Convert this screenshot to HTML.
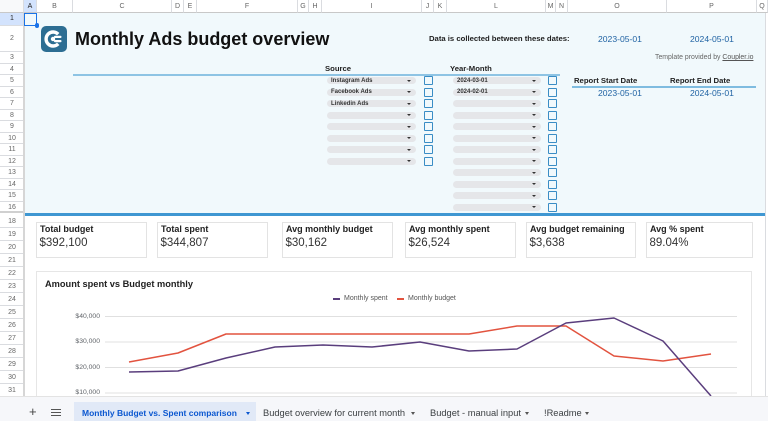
<!DOCTYPE html>
<html><head><meta charset="utf-8">
<style>
*{margin:0;padding:0;box-sizing:border-box}
body{width:768px;height:421px;overflow:hidden;position:relative;background:#fff;font-family:"Liberation Sans",Arial,sans-serif;color:#222}
.a{position:absolute;white-space:nowrap}
.ch{position:absolute;top:0;height:13px;line-height:13px;font-size:7px;color:#666;text-align:center;border-right:1px solid #dadce0;border-bottom:1px solid #c8c8c8;background:#fff}
.rh{position:absolute;left:0;width:24px;font-size:7px;color:#666;text-align:center;border-bottom:1px solid #dadce0;background:#fff}
.chip{position:absolute;height:7px;border-radius:4px;background:#e5e6e9;}
.chip i{position:absolute;left:4px;top:0.5px;font-style:normal;font-size:6px;font-weight:bold;line-height:7px;color:#333}
.chip:after{content:"";position:absolute;right:5px;top:2.5px;border-left:2px solid transparent;border-right:2px solid transparent;border-top:2.5px solid #333}
.cb{position:absolute;width:9px;height:9px;border:1.4px solid #3a8dc5;border-radius:1px}
.card{position:absolute;top:222px;height:36px;border:1px solid #e3e3e3;background:#fff}
.card b{position:absolute;left:3px;top:1px;font-size:9px;line-height:11px;color:#222}
.card span{position:absolute;left:2.5px;top:13px;font-size:11.5px;line-height:14px;color:#333}
.lbl{font-size:7.7px;font-weight:bold;color:#222;line-height:10px}
.dt{font-size:8.6px;color:#1f62a3;line-height:10px}
.tab{position:absolute;top:407px;font-size:9.3px;line-height:12px;color:#3c4043;white-space:nowrap}
.arr{position:absolute;top:412px;width:0;height:0;border-left:2.5px solid transparent;border-right:2.5px solid transparent;border-top:3px solid #555}
</style></head><body>

<div class="a" style="left:24px;top:13px;width:741px;height:200px;background:#f1f9fc"></div>
<div class="a" style="left:24px;top:213px;width:741px;height:2.5px;background:#3f97d2"></div>
<div class="a" style="left:765px;top:13px;width:1px;height:384px;background:#dadce0"></div>

<div class="ch" style="left:0;width:24px;background:#f8f9fa"></div>
<div class="ch" style="left:24px;width:13px;background:#d3e3fd;color:#1f1f1f">A</div>
<div class="ch" style="left:37px;width:36px">B</div>
<div class="ch" style="left:73px;width:99px">C</div>
<div class="ch" style="left:172px;width:12px">D</div>
<div class="ch" style="left:184px;width:13px">E</div>
<div class="ch" style="left:197px;width:101px">F</div>
<div class="ch" style="left:298px;width:11px">G</div>
<div class="ch" style="left:309px;width:13px">H</div>
<div class="ch" style="left:322px;width:100px">I</div>
<div class="ch" style="left:422px;width:12px">J</div>
<div class="ch" style="left:434px;width:13px">K</div>
<div class="ch" style="left:447px;width:99px">L</div>
<div class="ch" style="left:546px;width:10px">M</div>
<div class="ch" style="left:556px;width:12px">N</div>
<div class="ch" style="left:568px;width:99px">O</div>
<div class="ch" style="left:667px;width:90px">P</div>
<div class="ch" style="left:757px;width:11px">Q</div>

<div class="rh" style="top:13px;height:12.5px;line-height:12.5px;background:#d3e3fd;color:#1f1f1f">1</div>
<div class="rh" style="top:25.5px;height:26.5px;line-height:26.5px">2</div>
<div class="rh" style="top:52px;height:11.5px;line-height:11.5px">3</div>
<div class="rh" style="top:63.5px;height:11.5px;line-height:11.5px">4</div>
<div class="rh" style="top:75px;height:11.5px;line-height:11.5px">5</div>
<div class="rh" style="top:86.5px;height:11.5px;line-height:11.5px">6</div>
<div class="rh" style="top:98px;height:11.5px;line-height:11.5px">7</div>
<div class="rh" style="top:109.5px;height:11.5px;line-height:11.5px">8</div>
<div class="rh" style="top:121px;height:11.5px;line-height:11.5px">9</div>
<div class="rh" style="top:132.5px;height:11.5px;line-height:11.5px">10</div>
<div class="rh" style="top:144px;height:11.5px;line-height:11.5px">11</div>
<div class="rh" style="top:155.5px;height:11.5px;line-height:11.5px">12</div>
<div class="rh" style="top:167px;height:11.5px;line-height:11.5px">13</div>
<div class="rh" style="top:178.5px;height:11.5px;line-height:11.5px">14</div>
<div class="rh" style="top:190px;height:11.5px;line-height:11.5px">15</div>
<div class="rh" style="top:201.5px;height:11.5px;line-height:11.5px;border-bottom:2.5px solid #d0d0d0">16</div>
<div class="rh" style="top:214.5px;height:13px;line-height:13px">18</div>
<div class="rh" style="top:227.5px;height:13px;line-height:13px">19</div>
<div class="rh" style="top:240.5px;height:13px;line-height:13px">20</div>
<div class="rh" style="top:253.5px;height:13px;line-height:13px">21</div>
<div class="rh" style="top:266.5px;height:13px;line-height:13px">22</div>
<div class="rh" style="top:279.5px;height:13px;line-height:13px">23</div>
<div class="rh" style="top:292.5px;height:13px;line-height:13px">24</div>
<div class="rh" style="top:305.5px;height:13px;line-height:13px">25</div>
<div class="rh" style="top:318.5px;height:13px;line-height:13px">26</div>
<div class="rh" style="top:331.5px;height:13px;line-height:13px">27</div>
<div class="rh" style="top:344.5px;height:13px;line-height:13px">28</div>
<div class="rh" style="top:357.5px;height:13px;line-height:13px">29</div>
<div class="rh" style="top:370.5px;height:13px;line-height:13px">30</div>
<div class="rh" style="top:383.5px;height:13px;line-height:13px">31</div>
<div class="a" style="left:23px;top:13px;width:2px;height:384px;background:#d6d6d6"></div>

<div class="a" style="left:24px;top:13px;width:13px;height:12.5px;border:1.5px solid #1a73e8"></div>
<div class="a" style="left:34.5px;top:23px;width:4.5px;height:4.5px;border-radius:50%;background:#1a73e8"></div>

<svg class="a" style="left:41px;top:25.5px" width="26" height="26" viewBox="0 0 26 26">
<rect x="0" y="0" width="26" height="26" rx="5" fill="#2d6e93"/>
<path d="M17.2 8.2 A7 7 0 1 0 17.2 17.8" fill="none" stroke="#fff" stroke-width="3.4"/>
<circle cx="12" cy="13" r="2.2" fill="#fff"/>
<rect x="13" y="9.8" width="7.5" height="2.2" rx="1" fill="#fff"/>
<rect x="13" y="14" width="7.5" height="2.2" rx="1" fill="#fff"/>
</svg>
<div class="a" style="left:75px;top:30px;font-size:18px;font-weight:bold;line-height:18px;color:#111">Monthly Ads budget overview</div>

<div class="a lbl" style="left:429px;top:34px">Data is collected between these dates:</div>
<div class="a dt" style="left:598px;top:34px">2023-05-01</div>
<div class="a dt" style="left:690px;top:34px">2024-05-01</div>
<div class="a" style="left:655px;top:53px;font-size:6.9px;line-height:10px;color:#666">Template provided by <span style="text-decoration:underline;color:#555">Coupler.io</span></div>

<div class="a lbl" style="left:325px;top:64px">Source</div>
<div class="a lbl" style="left:450px;top:64px">Year-Month</div>
<div class="a" style="left:73px;top:74px;width:487px;height:1.5px;background:#8ec4e4"></div>

<div class="a lbl" style="left:574px;top:75.5px">Report Start Date</div>
<div class="a lbl" style="left:670px;top:75.5px">Report End Date</div>
<div class="a" style="left:572px;top:86px;width:184px;height:1.5px;background:#7fbce0"></div>
<div class="a dt" style="left:598px;top:87.5px">2023-05-01</div>
<div class="a dt" style="left:690px;top:87.5px">2024-05-01</div>

<div class="chip" style="left:327px;top:77.2px;width:89px"><i>Instagram Ads</i></div>
<div class="chip" style="left:327px;top:88.7px;width:89px"><i>Facebook Ads</i></div>
<div class="chip" style="left:327px;top:100.2px;width:89px"><i>Linkedin Ads</i></div>
<div class="chip" style="left:327px;top:111.7px;width:89px"></div>
<div class="chip" style="left:327px;top:123.2px;width:89px"></div>
<div class="chip" style="left:327px;top:134.7px;width:89px"></div>
<div class="chip" style="left:327px;top:146.2px;width:89px"></div>
<div class="chip" style="left:327px;top:157.7px;width:89px"></div>
<div class="cb" style="left:424px;top:76.3px"></div>
<div class="cb" style="left:424px;top:87.8px"></div>
<div class="cb" style="left:424px;top:99.3px"></div>
<div class="cb" style="left:424px;top:110.8px"></div>
<div class="cb" style="left:424px;top:122.3px"></div>
<div class="cb" style="left:424px;top:133.8px"></div>
<div class="cb" style="left:424px;top:145.3px"></div>
<div class="cb" style="left:424px;top:156.8px"></div>

<div class="chip" style="left:453px;top:77.2px;width:88px"><i>2024-03-01</i></div>
<div class="chip" style="left:453px;top:88.7px;width:88px"><i>2024-02-01</i></div>
<div class="chip" style="left:453px;top:100.2px;width:88px"></div>
<div class="chip" style="left:453px;top:111.7px;width:88px"></div>
<div class="chip" style="left:453px;top:123.2px;width:88px"></div>
<div class="chip" style="left:453px;top:134.7px;width:88px"></div>
<div class="chip" style="left:453px;top:146.2px;width:88px"></div>
<div class="chip" style="left:453px;top:157.7px;width:88px"></div>
<div class="chip" style="left:453px;top:169.2px;width:88px"></div>
<div class="chip" style="left:453px;top:180.7px;width:88px"></div>
<div class="chip" style="left:453px;top:192.2px;width:88px"></div>
<div class="chip" style="left:453px;top:203.7px;width:88px"></div>
<div class="cb" style="left:548px;top:76.3px"></div>
<div class="cb" style="left:548px;top:87.8px"></div>
<div class="cb" style="left:548px;top:99.3px"></div>
<div class="cb" style="left:548px;top:110.8px"></div>
<div class="cb" style="left:548px;top:122.3px"></div>
<div class="cb" style="left:548px;top:133.8px"></div>
<div class="cb" style="left:548px;top:145.3px"></div>
<div class="cb" style="left:548px;top:156.8px"></div>
<div class="cb" style="left:548px;top:168.3px"></div>
<div class="cb" style="left:548px;top:179.8px"></div>
<div class="cb" style="left:548px;top:191.3px"></div>
<div class="cb" style="left:548px;top:202.8px"></div>

<div class="card" style="left:36px;width:111px"><b>Total budget</b><span>$392,100</span></div>
<div class="card" style="left:157px;width:111px"><b>Total spent</b><span>$344,807</span></div>
<div class="card" style="left:282px;width:111px"><b>Avg monthly budget</b><span>$30,162</span></div>
<div class="card" style="left:405px;width:111px"><b>Avg monthly spent</b><span>$26,524</span></div>
<div class="card" style="left:526px;width:110px"><b>Avg budget remaining</b><span>$3,638</span></div>
<div class="card" style="left:646px;width:107px"><b>Avg % spent</b><span>89.04%</span></div>

<div class="a" style="left:36px;top:271px;width:716px;height:140px;border:1px solid #e6e6e6;background:#fff"></div>
<div class="a" style="left:45px;top:278.5px;font-size:9.25px;font-weight:bold;line-height:11px;color:#222">Amount spent vs Budget monthly</div>
<div class="a" style="left:333px;top:297.5px;width:7px;height:2px;background:#5a3e7d"></div>
<div class="a" style="left:344px;top:293.5px;font-size:7px;line-height:10px;color:#555">Monthly spent</div>
<div class="a" style="left:397px;top:297.5px;width:7px;height:2px;background:#e2533f"></div>
<div class="a" style="left:408px;top:293.5px;font-size:7px;line-height:10px;color:#555">Monthly budget</div>

<div class="a" style="left:60px;width:40px;text-align:right;top:311.5px;font-size:6.8px;line-height:10px;color:#5f6368">$40,000</div>
<div class="a" style="left:60px;width:40px;text-align:right;top:337px;font-size:6.8px;line-height:10px;color:#5f6368">$30,000</div>
<div class="a" style="left:60px;width:40px;text-align:right;top:362.5px;font-size:6.8px;line-height:10px;color:#5f6368">$20,000</div>
<div class="a" style="left:60px;width:40px;text-align:right;top:388px;font-size:6.8px;line-height:10px;color:#5f6368">$10,000</div>

<svg class="a" style="left:0;top:0" width="768" height="421" viewBox="0 0 768 421">
<g stroke="#e0e0e0" stroke-width="1">
<line x1="105" y1="316.5" x2="737" y2="316.5"/>
<line x1="105" y1="342" x2="737" y2="342"/>
<line x1="105" y1="367.5" x2="737" y2="367.5"/>
<line x1="105" y1="393" x2="737" y2="393"/>
</g>
<polyline fill="none" stroke="#e2533f" stroke-width="1.5" stroke-linejoin="round" points="129,362 178,353 226,334 275,334 323,334 372,334 420,334 469,334 517,326 566,326 614,356 663,361 711,354"/>
<polyline fill="none" stroke="#5a3e7d" stroke-width="1.5" stroke-linejoin="round" points="129,372 178,371 226,358 275,347 323,345 372,347 420,342 469,351 517,349 566,323 614,318 663,341 711,396"/>
</svg>

<div class="a" style="left:0;top:396px;width:768px;height:25px;background:#f6f7fa;border-top:1px solid #e3e3e3"></div>
<div class="a" style="left:29px;top:405px;font-size:13px;line-height:14px;color:#444">+</div>
<div class="a" style="left:51px;top:409px;width:10px;height:1.3px;background:#555"></div>
<div class="a" style="left:51px;top:412px;width:10px;height:1.3px;background:#555"></div>
<div class="a" style="left:51px;top:415px;width:10px;height:1.3px;background:#555"></div>
<div class="a" style="left:74px;top:402px;width:182px;height:19px;background:#e1e9f7"></div>
<div class="tab" style="left:82px;color:#0b57d0;font-weight:bold;font-size:8.5px">Monthly Budget vs. Spent comparison</div>
<div class="arr" style="left:245.5px;border-top-color:#0b57d0"></div>
<div class="tab" style="left:263px">Budget overview for current month</div>
<div class="arr" style="left:410.5px"></div>
<div class="tab" style="left:430px">Budget - manual input</div>
<div class="arr" style="left:524.5px"></div>
<div class="tab" style="left:544px">!Readme</div>
<div class="arr" style="left:584.5px"></div>

</body></html>
